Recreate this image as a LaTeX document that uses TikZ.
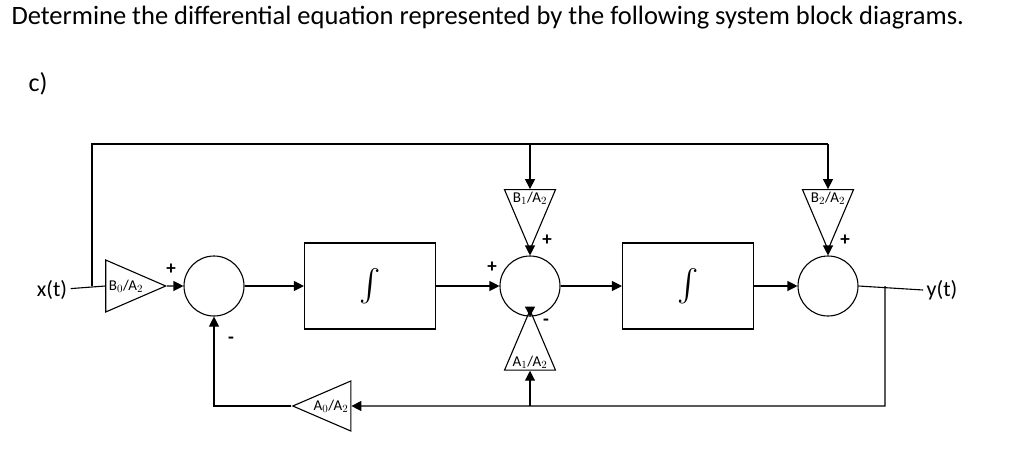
\documentclass[tikz,border=0pt]{standalone}
\usepackage{fontspec}
\setmainfont{Carlito}
\usetikzlibrary{positioning, arrows.meta, shapes.geometric}

\begin{document}
\begin{tikzpicture}[
    x=1pt, y=-1pt,
    % Estilos de Nodos
    sumnode/.style={circle, draw=black, line width=1.1pt, minimum size=60pt, inner sep=0pt},
    intnode/.style={rectangle, draw=black, line width=1.1pt, minimum width=131pt, minimum height=86pt},
    gain/.style={isosceles triangle, isosceles triangle stretches, draw=black, line width=1.1pt, inner sep=0pt, font=\fontsize{15}{15}\selectfont},
    sign/.style={font=\fontsize{19}{19}\selectfont\bfseries},
    % Estilos de Flechas
    arrow/.style={-{Triangle[length=10pt, width=10pt]}, line width=1.1pt, draw=black},
    line/.style={line width=1.1pt, draw=black}
]
\useasboundingbox (0,0) rectangle (1024,459);

% --- Texto ---
\node[anchor=west, font=\fontsize{26.5}{26.5}\selectfont] (title) at (8,18)
    {Determine the differential equation represented by the following system block diagrams.};
\node[font=\fontsize{26}{26}\selectfont] (part) at (38,84) {c)};

% --- Bloques ---
\node[font=\fontsize{22}{22}\selectfont] (xt) at (52,290) {x(t)};
\node[gain, shape border rotate=0, minimum width=52pt, minimum height=60pt] (g_b0) at (126,286) {B$_0$/A$_2$};
\node[sumnode] (s1) at (214,286) {};
\node[intnode] (int1) at (370,286) {\scalebox{3.2}{$\int$}};
\node[sumnode] (s2) at (530,286) {};
\node[intnode] (int2) at (688,286) {\scalebox{3.2}{$\int$}};
\node[sumnode] (s3) at (828,286) {};
\node[font=\fontsize{22}{22}\selectfont] (yt) at (942,290) {y(t)};

\node[gain, shape border rotate=270, minimum width=51pt, minimum height=60pt] (g_b1) at (530,198) {B$_1$/A$_2$};
\node[gain, shape border rotate=270, minimum width=51pt, minimum height=60pt] (g_b2) at (828,198) {B$_2$/A$_2$};
\node[gain, shape border rotate=90, minimum width=51pt, minimum height=60pt] (g_a1) at (530,362) {A$_1$/A$_2$};
\node[gain, shape border rotate=180, minimum width=50pt, minimum height=58pt] (g_a0) at (331,406) {A$_0$/A$_2$};

\coordinate (split) at (92,286);
\coordinate (top) at (92,144);
\coordinate (out) at (885,286);
\coordinate (bot) at (885,406);

% --- Flechas directas ---
\draw[line] (xt) -- (g_b0.west);
\draw[arrow] (g_b0.east) -- (s1.west);
\draw[arrow] (s1.east) -- (int1.west);
\draw[arrow] (int1.east) -- (s2.west);
\draw[arrow] (s2.east) -- (int2.west);
\draw[arrow] (int2.east) -- (s3.west);
\draw[line] (s3.east) -- (yt.west);

% --- Camino de avance ---
\draw[line] (split) -- (top) -- (top -| s3);
\draw[arrow] (top -| g_b1) -- (g_b1.north);
\draw[arrow] (top -| g_b2) -- (g_b2.north);
\draw[arrow] (g_b1.south) -- (s2.north);
\draw[arrow] (g_b2.south) -- (s3.north);

% --- Realimentación ---
\draw[arrow] (out) -- (bot) -- (g_a0.east);
\draw[arrow] (bot -| g_a1) -- (g_a1.south);
\draw[arrow] (g_a1.north) -- (s2.south);
\draw[arrow] (g_a0.west) -| (s1.south);

% --- Signos ---
\node[sign] (p1) at (171,269) {+};
\node[sign] (m1) at (231,340) {-};
\node[sign] (p2) at (492,267) {+};
\node[sign] (p3) at (547,240) {+};
\node[sign] (m2) at (546,322) {-};
\node[sign] (p4) at (845,240) {+};
\end{tikzpicture}
\end{document}
